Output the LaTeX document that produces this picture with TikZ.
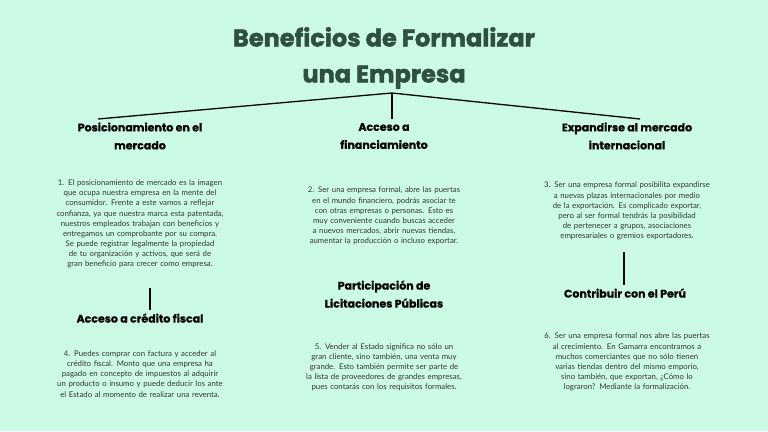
\documentclass[tikz,border=0pt]{standalone}
\usepackage{fontspec}
\setmainfont{Lato}
\newfontfamily\headfont{Poppins}[BoldFeatures={FakeBold=0.6}]
\newfontfamily\titlefont{Poppins}[BoldFeatures={FakeBold=2}]
\definecolor{bg}{HTML}{CCFBE5}
\definecolor{titlec}{HTML}{2F4F3F}
\definecolor{bodyc}{HTML}{333333}
\hyphenpenalty=10000
\exhyphenpenalty=10000
\begin{document}
\begin{tikzpicture}[x=1pt,y=-1pt,
  head/.style={align=center,font=\headfont\bfseries\fontsize{11}{18}\selectfont,text=black},
  body/.style={align=center,font=\fontsize{7.8}{10.1}\selectfont,text=bodyc,text width=#1},
  body/.default=168pt,
  conn/.style={line width=1.3pt,black}]
\fill[bg] (0,0) rectangle (768,431);
\useasboundingbox (0,0) rectangle (768,431);
\node[align=center,text=titlec,font=\titlefont\bfseries\fontsize{24}{36}\selectfont] (title) at (384,58) {Beneficios de Formalizar\\una Empresa};
\coordinate (top) at (392,93);
\node[head] (h1) at (140,136) {Posicionamiento en el\\mercado};
\node[head] (h2) at (384,136) {Acceso a\\financiamiento};
\node[head] (h3) at (627,136) {Expandirse al mercado\\internacional};
\coordinate (e1) at (98,119);
\coordinate (e2) at (392,119);
\coordinate (e3) at (640,119);
\draw[conn] (top) -- (e1);
\draw[conn] (top) -- (e2);
\draw[conn] (top) -- (e3);
\node[body] (t1) at (140,224) {1. El posicionamiento de mercado es la imagen que ocupa nuestra empresa en la mente del consumidor. Frente a este vamos a reflejar confianza, ya que nuestra marca esta patentada, nuestros empleados trabajan con beneficios y entregamos un comprobante por su compra. Se puede registrar legalmente la propiedad de tu organización y activos, que será de gran beneficio para crecer como empresa.};
\node[body] (t2) at (384,216) {2. Ser una empresa formal, abre las puertas en  el mundo financiero, podrás asociar te con otras empresas o personas. Esto es muy conveniente cuando buscas acceder a nuevos mercados, abrir nuevas tiendas, aumentar la producción o incluso exportar.};
\node[body] (t3) at (627,211) {3. Ser una empresa formal posibilita expandirse a nuevas plazas internacionales por medio de la exportación. Es complicado exportar, pero al ser formal tendrás la posibilidad de pertenecer a grupos, asociaciones empresariales o gremios exportadores.};
\node[head] (h4) at (140,318) {Acceso a crédito fiscal};
\node[head] (h5) at (384,294) {Participación de\\Licitaciones Públicas};
\node[head] (h6) at (625,293) {Contribuir con el Perú};
\coordinate (v1) at (150,288);
\coordinate (v2) at (624,252);
\draw[conn] (v1) -- (v1 |- h4.north);
\draw[conn] (v2) -- (v2 |- h6.north);
\node[body] (t4) at (140,374) {4. Puedes comprar con factura y acceder al crédito fiscal. Monto que una empresa ha pagado en concepto de impuestos al adquirir un producto o insumo y puede deducir los ante el Estado al momento de realizar una reventa.};
\node[body] (t5) at (384,367) {5. Vender al Estado significa no sólo un gran cliente, sino también, una venta muy grande. Esto también permite ser parte de la lista de proveedores de grandes empresas, pues contarás con los requisitos formales.};
\node[body] (t6) at (627,362) {6. Ser una empresa formal nos abre las puertas al crecimiento. En Gamarra encontramos a muchos comerciantes que no sólo tienen varias tiendas dentro del mismo emporio, sino también, que exportan, ¿Cómo lo lograron? Mediante la formalización.};
\end{tikzpicture}
\end{document}
